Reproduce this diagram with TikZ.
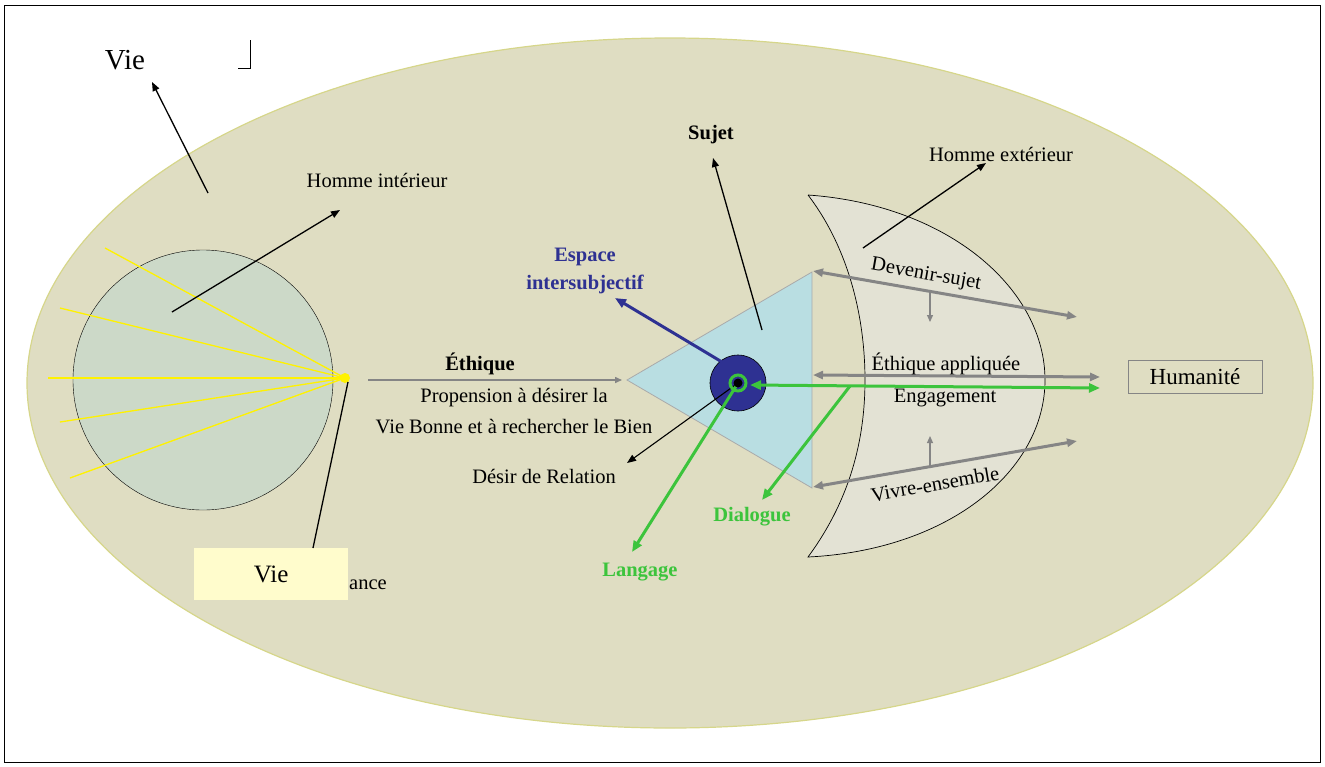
\documentclass[tikz,border=0pt]{standalone}
\usepackage{fontspec}
\setmainfont{Liberation Serif}
\usetikzlibrary{arrows.meta}
\definecolor{bgell}{HTML}{DFDDC2}
\definecolor{ellline}{HTML}{D6D68A}
\definecolor{circf}{HTML}{CCD9C8}
\definecolor{trif}{HTML}{B9DEE2}
\definecolor{dblue}{HTML}{2E3192}
\definecolor{gr}{HTML}{3CC43C}
\definecolor{gry}{HTML}{858585}
\begin{document}
\begin{tikzpicture}[x=1pt,y=-1pt,
  txt/.style={font=\fontsize{20.5}{23}\selectfont,inner sep=1pt},
  btxt/.style={font=\fontsize{20.5}{23}\selectfont\bfseries,inner sep=1pt},
  blk/.style={-{Triangle[length=9pt,width=7pt]},line width=1.3pt},
  gar/.style={{Triangle[length=10pt,width=8pt]}-{Triangle[length=10pt,width=8pt]},gry,line width=3pt},
  gsm/.style={-{Triangle[length=7pt,width=6pt]},gry,line width=1.2pt},
  grn/.style={-{Triangle[length=11pt,width=9pt]},gr,line width=3pt},
  ray/.style={yellow,line width=1.3pt}]
\useasboundingbox (0,0) rectangle (1325,766);
\draw[line width=0.8pt] (4,5) rectangle (1320,762);
\fill[bgell,draw=ellline,line width=1.2pt] (670,383) ellipse [x radius=643,y radius=345];
\node[circle,draw,fill=circf,minimum size=260pt,inner sep=0] (circ) at (203,380) {};
\coordinate (src) at (345,378);
\foreach \p in {(105,248),(60,308),(48,378),(60,422),(70,478)} \draw[ray] (src) -- \p;
\fill[yellow] (src) circle (5);
% top-left
\node[txt,font=\fontsize{29}{30}\selectfont] (vie) at (125,60) {Vie};
\coordinate (vs) at (208,193);
\draw[blk] (vs) -- (152,82);
\draw[line width=0.8pt] (250,40) -- (250,68) -- (238,68);
\node[txt] (hi) at (377,180) {Homme intérieur};
\coordinate (his) at (172,312);
\coordinate (hie) at (340,210);
\draw[blk] (his) -- (hie);
\node[fill=yellow!20,minimum width=154pt,minimum height=52pt,inner sep=0,anchor=north west] (viebox) at (194,548) {};
\coordinate (vl) at (313,548);
\draw[line width=1.3pt] (vl) -- (348,382);
\node[txt,font=\fontsize{25}{26}\selectfont] at (viebox.center) {Vie};
\node[txt,anchor=west] (ance) at (348,585) {ance};
% ethique
\coordinate (ea) at (368,380);
\coordinate (eb) at (622,380);
\draw[gsm,line width=1.5pt] (ea) -- (eb);
\node[btxt] (eth) at (480,364) {Éthique};
\node[txt] (p1) at (514,398) {Propension à désirer la};
\node[txt] (p2) at (514,427) {Vie Bonne et à rechercher le Bien};
% triangle
\fill[trif,draw=gry!70,line width=0.8pt] (627,380) -- (812,272) -- (812,488) -- cycle;
\node[btxt] (sujet) at (711,135) {Sujet};
\coordinate (sj) at (762,330);
\draw[blk] (sj) -- (713,158);
% crescent
\def\cres{(808,195) .. controls (950,205) and (1045,290) .. (1045,380) .. controls (1045,470) and (950,550) .. (808,557) .. controls (850,500) and (865,440) .. (865,380) .. controls (865,320) and (850,250) .. (808,195)}
\fill[gry!20,opacity=0.5] \cres;
\draw[line width=0.7pt] \cres;
\node[txt] (he) at (1001,154) {Homme extérieur};
\coordinate (hes) at (863,248);
\draw[blk] (hes) -- (986,163);
% gray arrows
\coordinate (d1) at (813,271); \coordinate (d2) at (1077,317);
\draw[gar] (d1) -- (d2);
\node[txt,rotate=-10] (ds) at (926,275) {Devenir-sujet};
\draw[gsm] (930,292) -- (930,322);
\coordinate (a1) at (813,375); \coordinate (a2) at (1100,377);
\draw[gar] (a1) -- (a2);
\node[txt] (ea2) at (946,364) {Éthique appliquée};
\coordinate (v1) at (813,487); \coordinate (v2) at (1077,441);
\draw[gar] (v1) -- (v2);
\node[txt,rotate=10] (ve) at (935,484) {Vivre-ensemble};
\draw[gsm] (930,466) -- (930,436);
\node[txt] (eng) at (945,398) {Engagement};
\node[draw=gry,fill=bgell,txt,font=\fontsize{23}{24}\selectfont,minimum width=134pt,minimum height=33pt] (hum) at (1195,377) {Humanité};
% center disk
\node[circle,fill=dblue,draw=black,line width=0.6pt,minimum size=56pt,inner sep=0] (disk) at (738,383) {};
\coordinate (rel) at (627,463);
\draw[-{Triangle[length=9pt,width=7pt]},line width=1.1pt] (disk.center) -- (rel);
\node[txt] (dr) at (544,476) {Désir de Relation};
\draw[-{Triangle[length=11pt,width=9pt]},dblue,line width=3pt] (722,362) -- (615,298);
\node[btxt,text=dblue,align=center,font=\fontsize{20.5}{28}\selectfont\bfseries] (esp) at (585,271) {Espace\\intersubjectif};
% green
\coordinate (gj) at (850,386);
\coordinate (ge) at (1100,388);
\draw[{Triangle[length=11pt,width=9pt]}-{Triangle[length=11pt,width=9pt]},gr,line width=3pt] (750,385) -- (ge);
\draw[grn] (gj) -- (762,500);
\draw[grn] (disk.center) -- (632,552);
\draw[gr,line width=3pt,fill=none] (disk.center) circle (8);
\fill (disk.center) circle (4.5);
\node[btxt,text=gr] (dia) at (752,517) {Dialogue};
\node[btxt,text=gr] (lan) at (640,572) {Langage};
\end{tikzpicture}
\end{document}
